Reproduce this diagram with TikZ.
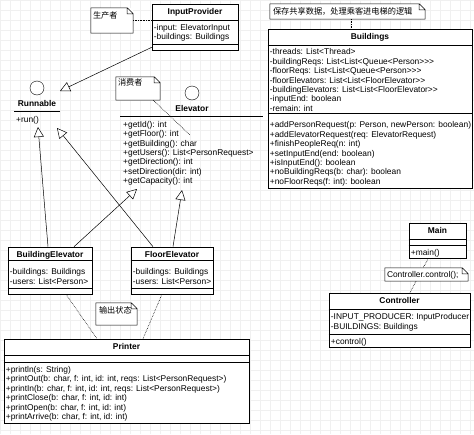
\documentclass[tikz,border=0pt]{standalone}
\usepackage{fontspec}
\setmainfont{Liberation Sans}[Ligatures=TeXOff]
\newfontfamily\cjk{Noto Sans CJK SC}
\usetikzlibrary{arrows.meta}

\tikzset{
	gridline/.style={draw=gray!12, line width=0.4pt, step=10pt},
	classbox/.style={draw, fill=white, line width=0.6pt, inner sep=0pt},
	classname/.style={font=\fontsize{8.4}{9.5}\selectfont\bfseries, text height=6pt, text depth=0pt, inner sep=0pt},
	members/.style={font=\fontsize{8.4}{9.4}\selectfont, align=left, anchor=north west, inner sep=0pt},
	notebox/.style={fill=white, inner sep=0pt},
	notetext/.style={font=\cjk\fontsize{8.2}{9.5}\selectfont, anchor=west, text height=6pt, text depth=0pt, inner sep=0pt},
	realize/.style={-{Triangle[length=10pt, width=10pt, fill=white]}, line width=0.5pt},
	depend/.style={densely dotted, line width=0.6pt},
}

% folded corner round a note node
\newcommand{\dogear}[1]{%
	\draw[line width=0.5pt] (#1.south west) -- (#1.north west) -- ([xshift=-6pt]#1.north east) -- ([yshift=-6pt]#1.north east) -- (#1.south east) -- cycle
		([xshift=-6pt]#1.north east) |- ([yshift=-6pt]#1.north east);}

\begin{document}
\begin{tikzpicture}[x=1pt, y=-1pt]
	\useasboundingbox (0,0) rectangle (474,434);
	\draw[gridline] (0,434) grid (474,0);

	% Interfaces:
	\node[draw, circle, fill=white, minimum size=14pt, inner sep=0pt] (runcirc) at (37,88) {};
	\node[classname] (runnable) at (37,103) {Runnable};
	\draw[line width=0.6pt] (14,111) -- (60,111);
	\node[members] (runops) at (16,116) {+run()};

	\node[draw, circle, fill=white, minimum size=14pt, inner sep=0pt] (elevcirc) at (192,93) {};
	\node[classname] (elevator) at (192,108) {Elevator};
	\draw[line width=0.6pt] (120,116) -- (263,116);
	\node[members] (elevops) at (123,121) {+getId(): int\\+getFloor(): int\\+getBuilding(): char\\+getUsers(): List<PersonRequest>\\+getDirection(): int\\+setDirection(dir: int)\\+getCapacity(): int};

	\coordinate (run tip a) at (38,127);
	\coordinate (run tip b) at (57,128);
	\coordinate (run tip c) at (60,91);
	\coordinate (elev tip a) at (137,189);
	\coordinate (elev tip b) at (182,190);
	\coordinate (elev dot) at (190,135);

	% Classes:
	\node[classbox, minimum width=86pt, minimum height=46pt] (provider) at (195,27) {};
	\draw ([yshift=-16pt]provider.north west) -- ([yshift=-16pt]provider.north east);
	\draw ([yshift=-40pt]provider.north west) -- ([yshift=-40pt]provider.north east);
	\node[classname] at ([yshift=-8pt]provider.north) {InputProvider};
	\node[members] at ([xshift=2pt,yshift=-20.5pt]provider.north west) {-input: ElevatorInput\\-buildings: Buildings};

	\node[classbox, minimum width=204pt, minimum height=159pt] (buildings) at (370,108.5) {};
	\draw ([yshift=-16pt]buildings.north west) -- ([yshift=-16pt]buildings.north east);
	\draw ([yshift=-84pt]buildings.north west) -- ([yshift=-84pt]buildings.north east);
	\node[classname] at ([yshift=-8pt]buildings.north) {Buildings};
	\node[members] at ([xshift=2pt,yshift=-20pt]buildings.north west) {-threads: List<Thread>\\-buildingReqs: List<List<Queue<Person>>>\\-floorReqs: List<List<Queue<Person>>>\\-floorElevators: List<List<FloorElevator>>\\-buildingElevators: List<List<FloorElevator>>\\-inputEnd: boolean\\-remain: int};
	\node[members] at ([xshift=2pt,yshift=-93pt]buildings.north west) {+addPersonRequest(p: Person, newPerson: boolean)\\+addElevatorRequest(req: ElevatorRequest)\\+finishPeopleReq(n: int)\\+setInputEnd(end: boolean)\\+isInputEnd(): boolean\\+noBuildingReqs(b: char): boolean\\+noFloorReqs(f: int): boolean};

	\node[classbox, minimum width=57pt, minimum height=35pt] (main) at (437.5,240.5) {};
	\draw ([yshift=-16pt]main.north west) -- ([yshift=-16pt]main.north east);
	\draw ([yshift=-22pt]main.north west) -- ([yshift=-22pt]main.north east);
	\node[classname] at ([yshift=-7.5pt]main.north) {Main};
	\node[members] at ([xshift=2pt,yshift=-27pt]main.north west) {+main()};

	\node[classbox, minimum width=141pt, minimum height=54pt] (controller) at (399.5,320) {};
	\draw ([yshift=-16pt]controller.north west) -- ([yshift=-16pt]controller.north east);
	\draw ([yshift=-41pt]controller.north west) -- ([yshift=-41pt]controller.north east);
	\node[classname] at ([yshift=-8pt]controller.north) {Controller};
	\node[members] at ([xshift=2pt,yshift=-21pt]controller.north west) {-INPUT\_PRODUCER: InputProducer\\-BUILDINGS: Buildings};
	\node[members] at ([xshift=2pt,yshift=-45.5pt]controller.north west) {+control()};

	\node[classbox, minimum width=84pt, minimum height=47pt] (bldelev) at (50,270.5) {};
	\draw ([yshift=-13pt]bldelev.north west) -- ([yshift=-13pt]bldelev.north east);
	\draw ([yshift=-41pt]bldelev.north west) -- ([yshift=-41pt]bldelev.north east);
	\node[classname] at ([yshift=-7.5pt]bldelev.north) {BuildingElevator};
	\node[members] at ([xshift=2pt,yshift=-22pt]bldelev.north west) {-buildings: Buildings\\-users: List<Person>};

	\node[classbox, minimum width=82pt, minimum height=47pt] (flrelev) at (172,270.5) {};
	\draw ([yshift=-13pt]flrelev.north west) -- ([yshift=-13pt]flrelev.north east);
	\draw ([yshift=-41pt]flrelev.north west) -- ([yshift=-41pt]flrelev.north east);
	\node[classname] at ([yshift=-7.5pt]flrelev.north) {FloorElevator};
	\node[members] at ([xshift=2pt,yshift=-22pt]flrelev.north west) {-buildings: Buildings\\-users: List<Person>};

	\node[classbox, minimum width=245pt, minimum height=84pt] (printer) at (126.5,381) {};
	\draw ([yshift=-16pt]printer.north west) -- ([yshift=-16pt]printer.north east);
	\draw ([yshift=-23pt]printer.north west) -- ([yshift=-23pt]printer.north east);
	\node[classname] at ([yshift=-8pt]printer.north) {Printer};
	\node[members] at ([xshift=2pt,yshift=-27.5pt]printer.north west) {+println(s: String)\\+printOut(b: char, f: int, id: int, reqs: List<PersonRequest>)\\+printIn(b: char, f: int, id: int, reqs: List<PersonRequest>)\\+printClose(b: char, f: int, id: int)\\+printOpen(b: char, f: int, id: int)\\+printArrive(b: char, f: int, id: int)};

	% Notes:
	\node[notebox, minimum width=42pt, minimum height=25pt] (producer note) at (112,20.5) {};
	\dogear{producer note}
	\node[notetext] at ([xshift=2pt,yshift=-8pt]producer note.north west) {生产者};

	\node[notebox, minimum width=44pt, minimum height=23pt] (consumer note) at (138,88.5) {};
	\dogear{consumer note}
	\node[notetext] at ([xshift=2pt,yshift=-6pt]consumer note.north west) {消费者};

	\node[notebox, minimum width=155pt, minimum height=15pt] (shared note) at (347.5,11.5) {};
	\dogear{shared note}
	\node[notetext] at ([xshift=3pt]shared note.west) {保存共享数据，处理乘客进电梯的逻辑};

	\node[notebox, minimum width=83pt, minimum height=13pt] (control note) at (426.5,274.5) {};
	\dogear{control note}
	\node[notetext, font=\fontsize{8.4}{9.5}\selectfont] at ([xshift=2pt]control note.west) {Controller.control();};

	\node[notebox, minimum width=41pt, minimum height=22pt] (output note) at (116.5,314) {};
	\dogear{output note}
	\node[notetext] at ([xshift=3pt,yshift=-8pt]output note.north west) {输出状态};

	% Lines:
	\draw[realize] ([yshift=3pt]provider.south west) -- (run tip c);
	\draw[realize] ([xshift=-2pt]bldelev.north) -- (run tip a);
	\draw[realize] ([xshift=24pt]bldelev.north) -- (elev tip a);
	\draw[realize] ([xshift=-19pt]flrelev.north) -- (run tip b);
	\draw[realize] ([xshift=1pt]flrelev.north) -- (elev tip b);

	\draw[depend] (producer note.east) -- (producer note.east -| provider.west);
	\draw[depend] ([xshift=-7pt]consumer note.south east) -- (elev dot);
	\draw[depend] ([xshift=4pt]shared note.south) -- ([xshift=4pt]shared note.south |- buildings.north);
	\draw[depend] ([xshift=-9pt]main.south) -- ([xshift=-3.5pt]control note.north);
	\draw[depend] ([xshift=-10.5pt]control note.south) -- ([xshift=10.5pt]controller.north);
	\draw[depend] ([xshift=16pt]bldelev.south) -- ([xshift=-29.5pt]printer.north);
	\draw[depend] ([xshift=-10pt]flrelev.south) -- ([xshift=16.5pt]printer.north);

\end{tikzpicture}
\end{document}
